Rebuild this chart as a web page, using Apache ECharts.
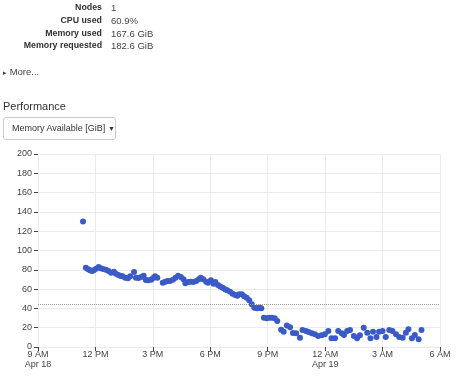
<!DOCTYPE html>
<html>
<head>
<meta charset="utf-8">
<script src="https://cdn.jsdelivr.net/npm/echarts@6/dist/echarts.min.js"></script>
<style>
  html,body{margin:0;padding:0;background:#fff;}
  body{width:474px;height:380px;position:relative;overflow:hidden;font-family:"Liberation Sans",Arial,sans-serif;}
  #chart{position:absolute;left:0;top:0;width:474px;height:380px;}
  .ov{position:absolute;white-space:nowrap;color:#333;}
  .lbl{font-weight:bold;font-size:8.8px;text-align:right;width:102px;left:0;}
  .val{font-size:9.5px;left:111px;color:#444;}
  #btn{position:absolute;left:3px;top:117px;width:113px;height:23px;border:1px solid #ccc;border-radius:3px;box-sizing:border-box;font-size:9px;color:#333;line-height:21px;padding-left:8px;}
</style>
</head>
<body>
<div id="chart"></div>
<div class="ov lbl" style="top:2px">Nodes</div><div class="ov val" style="top:2px">1</div>
<div class="ov lbl" style="top:15px">CPU used</div><div class="ov val" style="top:15px">60.9%</div>
<div class="ov lbl" style="top:28px">Memory used</div><div class="ov val" style="top:28px">167.6 GiB</div>
<div class="ov lbl" style="top:40px">Memory requested</div><div class="ov val" style="top:40px">182.6 GiB</div>
<div class="ov" style="left:3px;top:66px;font-size:9.5px;color:#444"><span style="font-size:7px">&#9656;</span> More...</div>
<div class="ov" style="left:3px;top:100px;font-size:11px;color:#333">Performance</div>
<div id="btn">Memory Available [GiB] <span style="font-size:7px">&#9660;</span></div>
<script>
// minutes after 9 AM, Apr 18
const minutes = [141,150,157,163,169,175,182,190,196,204,213,221,229,238,244,252,259,265,273,282,289,301,307,315,323,331,338,346,355,361,367,374,391,399,406,414,423,431,439,448,456,462,471,479,487,496,504,510,518,527,533,542,550,556,564,571,579,586,593,602,610,618,625,631,639,646,654,662,670,678,686,693,700,708,717,725,733,742,750,762,770,780,790,799,809,821,829,840,848,858,868,878,889,899,910,920,931,941,952,959,969,978,990,1000,1009,1021,1032,1042,1050,1061,1069,1080,1090,1101,1111,1122,1132,1143,1153,1161,1172,1181,1193,1202];
// Memory Available [GiB]
const memAvail = [130,82.2,80.5,79.5,78.8,79.5,81,82.9,81.5,80.8,80,78.8,77,78,76,74.6,73.6,73.2,71.8,71.2,73.2,77.7,71.8,71.5,72.5,73.9,69.4,69.1,69.7,71.5,73.2,71.8,66.6,67.7,68.4,68.4,69.7,71.8,73.9,72.5,70.1,66,67.4,67.7,67.4,68.4,70.1,71.8,70.1,67.7,66.6,69.1,65.6,67.4,64.2,62.7,61.5,59.8,58.8,57.3,55.2,53.9,53.2,54.6,54.6,52.5,51.1,48.4,44.2,40.7,40.1,40.7,40.1,30.4,29.7,30.4,30.4,29.7,26.9,17.8,15.9,22.3,20.5,14.5,14.2,9.7,17.6,16.6,15.5,14.2,13.1,11.4,12.1,13.1,16.6,9,9,16.6,14.2,12.4,16.6,17.6,11.4,9,12.1,20,14.8,9,15.9,10.4,15.9,16.6,10.4,17.6,16.6,13.1,10.4,9.7,14.8,18.3,9,12.4,8,17.6];
const threshold = 44.3;
const xTickLabels = ["9 AM\nApr 18","12 PM","3 PM","6 PM","9 PM","12 AM\nApr 19","3 AM","6 AM"];
const yMin = 0, yMax = 200, yStep = 20;
const xStep = 180, xMax = 1260;

const chart = echarts.init(document.getElementById('chart'), null, {renderer:'canvas'});
const axisFont = {fontFamily:'"Liberation Sans", Arial, sans-serif', fontSize:9, color:'#444'};
chart.setOption({
  animation:false,
  grid:{left:38, right:34, top:154, bottom:33, containLabel:false},
  xAxis:{
    type:'value', min:0, max:xMax, interval:xStep,
    axisLine:{show:false},
    axisTick:{show:true, length:4, lineStyle:{color:'#444'}},
    splitLine:{show:true, lineStyle:{color:'#ebebeb', width:1}},
    axisLabel:Object.assign({margin:3, lineHeight:10, formatter:v => xTickLabels[Math.round(v/xStep)] || ''}, axisFont)
  },
  yAxis:{
    type:'value', min:yMin, max:yMax, interval:yStep,
    axisLine:{show:false},
    axisTick:{show:true, length:4, lineStyle:{color:'#444'}},
    splitLine:{show:true, lineStyle:{color:'#ebebeb', width:1}},
    axisLabel:Object.assign({margin:6}, axisFont)
  },
  series:[{
    type:'scatter',
    data: minutes.map((m,i) => [m, memAvail[i]]),
    symbolSize:6,
    itemStyle:{color:'#3a5bc7', opacity:1},
    markLine:{
      silent:true, symbol:'none', label:{show:false},
      lineStyle:{type:'dotted', color:'#999', width:1},
      data:[{yAxis:threshold}]
    }
  }]
});
</script>
</body>
</html>
